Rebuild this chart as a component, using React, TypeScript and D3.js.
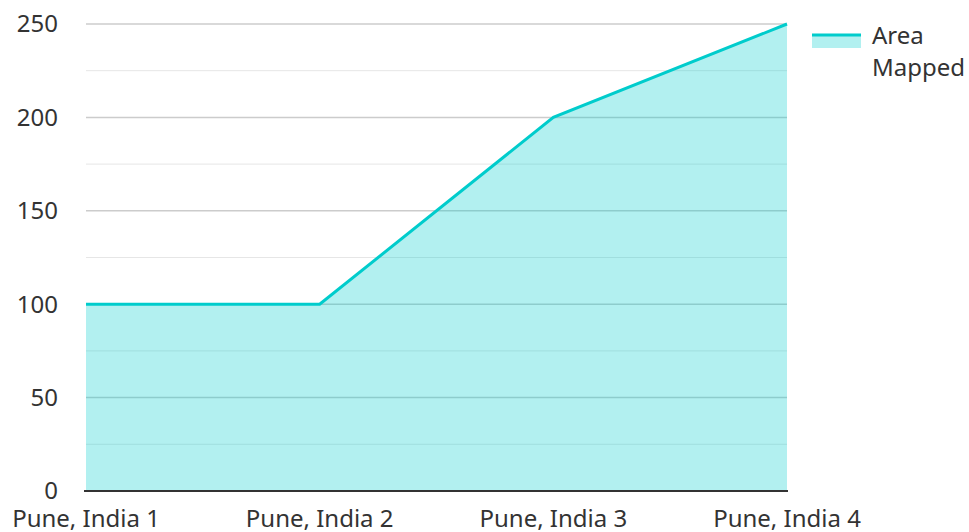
import { useEffect, useRef } from 'react'
import * as d3 from 'd3'

const categories = ['Pune, India 1', 'Pune, India 2', 'Pune, India 3', 'Pune, India 4']
const areaMapped = [100, 100, 200, 250]
const yTicks = [0, 50, 100, 150, 200, 250]
const yMinorTicks = [25, 75, 125, 175, 225]
const seriesName = ['Area', 'Mapped']

const LINE = '#00cccc'
const FONT = '"Noto Sans", sans-serif'
const FS = 24

export default function App() {
  const ref = useRef<SVGSVGElement>(null)

  useEffect(() => {
    const svg = d3.select(ref.current)
    svg.selectAll('*').remove()

    const margin = { top: 24, left: 86, right: 182, bottom: 41 }
    const W = 969, H = 532
    const x = d3.scalePoint<string>().domain(categories).range([margin.left, W - margin.right])
    const y = d3.scaleLinear().domain([0, 250]).range([H - margin.bottom, margin.top])

    // grid
    svg.append('g').selectAll('line').data(yMinorTicks).join('line')
      .attr('x1', margin.left).attr('x2', W - margin.right)
      .attr('y1', d => y(d)).attr('y2', d => y(d))
      .attr('stroke', '#e6e6e6').attr('stroke-width', 1)
    svg.append('g').selectAll('line').data(yTicks.filter(d => d > 0)).join('line')
      .attr('x1', margin.left).attr('x2', W - margin.right)
      .attr('y1', d => y(d)).attr('y2', d => y(d))
      .attr('stroke', '#cccccc').attr('stroke-width', 1.5)

    const data = categories.map((c, i) => ({ c, v: areaMapped[i] }))

    const area = d3.area<{ c: string, v: number }>()
      .x(d => x(d.c)!).y0(y(0)).y1(d => y(d.v))
    svg.append('path').datum(data).attr('d', area)
      .attr('fill', LINE).attr('fill-opacity', 0.3)

    const line = d3.line<{ c: string, v: number }>()
      .x(d => x(d.c)!).y(d => y(d.v))
    svg.append('path').datum(data).attr('d', line)
      .attr('fill', 'none').attr('stroke', LINE).attr('stroke-width', 3)

    // baseline
    svg.append('line')
      .attr('x1', margin.left - 2).attr('x2', W - margin.right + 1)
      .attr('y1', y(0)).attr('y2', y(0))
      .attr('stroke', '#333').attr('stroke-width', 2)

    // y labels
    svg.append('g').selectAll('text').data(yTicks).join('text')
      .attr('x', 58).attr('y', d => y(d)).attr('dy', '0.35em')
      .attr('text-anchor', 'end')
      .attr('font-family', FONT).attr('font-size', FS).attr('fill', '#333')
      .text(d => d)

    // x labels
    svg.append('g').selectAll('text').data(categories).join('text')
      .attr('x', d => x(d)!).attr('y', 527)
      .attr('text-anchor', 'middle')
      .attr('font-family', FONT).attr('font-size', FS).attr('fill', '#333')
      .text(d => d)

    // legend
    const lg = svg.append('g').attr('transform', 'translate(812,35)')
    lg.append('rect').attr('x', 0).attr('y', 0).attr('width', 49).attr('height', 13)
      .attr('fill', LINE).attr('fill-opacity', 0.3)
    lg.append('line').attr('x1', 0).attr('x2', 49).attr('y1', 0).attr('y2', 0)
      .attr('stroke', LINE).attr('stroke-width', 3)
    lg.append('text').attr('x', 60).attr('y', 9)
      .attr('font-family', FONT).attr('font-size', FS).attr('fill', '#333')
      .selectAll('tspan').data(seriesName).join('tspan')
      .attr('x', 60).attr('dy', (_d, i) => (i === 0 ? 0 : 32))
      .text(d => d)
  }, [])

  return (
    <svg ref={ref} width={969} height={532}
      style={{ position: 'absolute', left: 0, top: 0, background: '#fff' }} />
  )
}
